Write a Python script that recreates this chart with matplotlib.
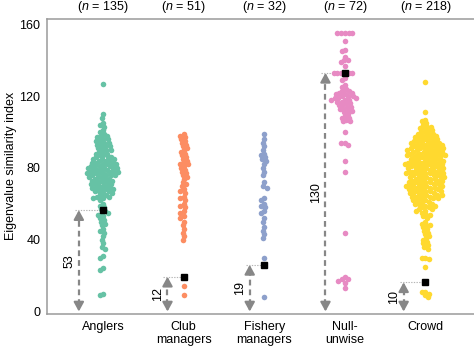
import matplotlib
matplotlib.use('Agg')
import matplotlib.pyplot as plt
import numpy as np

plt.rcParams['font.family'] = ['Liberation Sans', 'DejaVu Sans']
plt.rcParams['mathtext.fontset'] = 'custom'
plt.rcParams['mathtext.it'] = 'Liberation Sans:italic'
plt.rcParams['mathtext.rm'] = 'Liberation Sans'

categories = ['Anglers', 'Club\nmanagers', 'Fishery\nmanagers', 'Null-\nunwise', 'Crowd']
n_counts = [135, 51, 32, 72, 218]

anglers = [127, 110, 108, 105, 104, 103, 101, 100, 99, 98, 98, 97,
           62, 63, 63, 64, 64, 65, 65, 66, 66, 67, 67, 67, 68, 68, 68, 69, 69, 69,
           70, 70, 70, 71, 71, 71, 72, 72, 72, 73, 73, 73, 74, 74, 74, 75, 75, 75,
           76, 76, 76, 76, 77, 77, 77, 77, 78, 78, 78, 78, 79, 79, 79, 79,
           80, 80, 80, 80, 81, 81, 81, 81, 82, 82, 82, 83, 83, 83, 84, 84, 84,
           85, 85, 85, 86, 86, 86, 87, 87, 88, 88, 89, 89, 90, 90, 91, 91, 92, 92,
           93, 93, 94, 94, 95, 95, 96, 96,
           60, 59, 58, 57, 56, 55, 55, 54, 53, 52, 51, 50, 49, 48, 46, 45, 44, 42,
           40, 38, 36, 35, 31, 30, 24, 23, 10, 9]

club_managers = [99, 98, 97, 96, 95, 94, 93, 92, 91, 90, 89, 88, 87, 86, 85, 84, 83,
                 82, 82, 81, 80, 79, 78, 77, 76, 75, 74, 72, 71, 70, 68, 67, 66,
                 64, 63, 62, 60, 59, 58, 56, 55, 53, 52, 50, 48, 46, 44, 42, 40,
                 14, 9]

fishery_managers = [99, 96, 94, 92, 90, 88, 87, 86, 85, 84, 82, 80, 78, 76, 72, 70, 69,
                    63, 62, 60, 59, 58, 56, 55, 52, 50, 47, 45, 43, 41, 30, 8]

null_unwise = [155, 155, 155, 155, 155, 151, 146, 145, 142, 140, 140, 139, 137,
               133, 133, 133, 133, 133, 133, 130, 129, 126, 125,
               124, 123, 123, 122, 122, 121, 121, 120, 120, 120, 119, 119, 119,
               118, 118, 118, 117, 117, 116, 116, 115, 115, 114, 114, 113, 113,
               112, 112, 111, 110, 109, 108, 108, 107, 106, 106,
               100, 94, 94, 93, 84, 78, 44, 19, 18, 18, 17, 16, 13]

crowd = [128, 111, 107, 106, 105, 104,
         30, 30, 29, 25, 11, 11, 10, 9, 8,
         50, 49, 48, 48, 47, 46, 45, 44, 43, 42, 41, 40, 39, 38, 37, 36, 35,
         52, 53, 54, 54, 55, 56, 56, 57, 57, 58, 58, 59, 59, 60, 60, 60, 61, 61,
         62, 62, 62, 63, 63, 63, 64, 64, 64, 64, 65, 65, 65, 65, 66, 66, 66, 66,
         67, 67, 67, 67, 68, 68, 68, 68, 69, 69, 69, 69, 70, 70, 70, 70, 70,
         71, 71, 71, 71, 72, 72, 72, 72, 73, 73, 73, 73, 74, 74, 74, 74,
         75, 75, 75, 75, 75, 76, 76, 76, 76, 77, 77, 77, 77, 77, 78, 78, 78, 78, 78,
         79, 79, 79, 79, 80, 80, 80, 80, 80, 81, 81, 81, 81, 81, 82, 82, 82, 82, 82,
         83, 83, 83, 83, 83, 84, 84, 84, 84, 84, 85, 85, 85, 85,
         86, 86, 86, 86, 86, 87, 87, 87, 87, 87, 88, 88, 88, 88, 88, 89, 89, 89, 89,
         90, 90, 90, 90, 90, 91, 91, 91, 91, 91, 92, 92, 92, 92, 93, 93, 93, 93,
         94, 94, 94, 94, 95, 95, 95, 95,
         96, 96, 96, 97, 97, 97, 98, 98, 98, 99, 99, 99, 100, 100, 101, 101,
         102, 102, 103, 103]

groups = [anglers, club_managers, fishery_managers, null_unwise, crowd]
medians = [56.5, 19.4, 26.0, 133.0, 16.3]
arrow_labels = ['53', '12', '19', '130', '10']
colors = ['#66c2a5', '#fc8d62', '#8da0cb', '#e78ac3', '#ffd92f']

# layout
arrow_dx = [-0.30, -0.20, -0.18, -0.24, -0.27]
gray = '#878787'

fig = plt.figure(figsize=(4.74, 3.48), dpi=100)
ax = fig.add_axes([0.1002, 0.0986, 0.8998, 0.8468])
ax.set_xlim(-0.689, 4.603)
ax.set_ylim(-1.2, 163)


def swarm_offsets(ax, x0, values, d):
    pts = ax.transData.transform(np.column_stack([np.full(len(values), float(x0)),
                                                  np.asarray(values, float)]))
    ys = pts[:, 1]
    order = np.argsort(-ys, kind='stable')
    placed = []
    offs = np.zeros(len(values))
    for i in order:
        y = ys[i]
        neigh = [(px, py) for (px, py) in placed if abs(py - y) < d]
        cands = [0.0]
        for px, py in neigh:
            dx = np.sqrt(d * d - (py - y) ** 2)
            cands += [px + dx, px - dx]
        cands.sort(key=lambda c: (abs(c), c))
        chosen = 0.0
        for c in cands:
            if all((c - px) ** 2 + (y - py) ** 2 >= d * d - 1e-6 for px, py in neigh):
                chosen = c
                break
        placed.append((chosen, y))
        offs[i] = chosen
    ppu = ax.transData.transform((1, 0))[0] - ax.transData.transform((0, 0))[0]
    return offs / ppu


for i, (vals, col) in enumerate(zip(groups, colors)):
    offs = swarm_offsets(ax, i, vals, 3.7)
    ax.scatter(i + offs, vals, s=16, color=col, linewidths=0, zorder=3)

for i, (m, lab, dxa) in enumerate(zip(medians, arrow_labels, arrow_dx)):
    xa = i + dxa
    # dotted guide to the square
    ax.plot([xa - 0.05, i], [m, m], color='#b5b5b5', lw=0.8, ls=(0, (1.2, 1.2)), zorder=2)
    # dashed shaft
    ax.plot([xa, xa], [3.5, m - 3.5], color=gray, lw=1.6, ls=(0, (2.6, 1.8)), zorder=2)
    # heads
    ax.annotate('', xy=(xa, m), xytext=(xa, m - 2.5),
                arrowprops=dict(arrowstyle='-|>,head_length=0.55,head_width=0.3',
                                color=gray, lw=1.5, shrinkA=0, shrinkB=0), zorder=2)
    ax.annotate('', xy=(xa, 0), xytext=(xa, 2.5),
                arrowprops=dict(arrowstyle='-|>,head_length=0.55,head_width=0.3',
                                color=gray, lw=1.5, shrinkA=0, shrinkB=0), zorder=2)
    ax.text(xa - 0.045, m / 2, lab, rotation=90, ha='right', va='center',
            fontsize=9, color='black', zorder=4)
    ax.plot([i], [m], marker='s', color='black', markersize=5, zorder=5, ls='none')

for i, n in enumerate(n_counts):
    ax.text(i, 1.041, '($\\mathit{n}$ = %d)' % n, transform=ax.get_xaxis_transform(),
            ha='center', va='center', fontsize=9)

ax.set_xticks(range(len(categories)))
ax.set_xticklabels(categories, fontsize=9)
ax.set_yticks([0, 40, 80, 120, 160])
ax.tick_params(axis='both', length=0, labelsize=9)
ax.tick_params(axis='x', pad=5)
ax.tick_params(axis='y', pad=5)
ax.set_ylabel('Eigenvalue similarity index', fontsize=9, labelpad=2)

for side in ['left', 'bottom', 'top']:
    ax.spines[side].set_color('#9a9a9a')
    ax.spines[side].set_linewidth(1.1)
ax.spines['right'].set_visible(False)

fig.savefig('out.png', dpi=100)
